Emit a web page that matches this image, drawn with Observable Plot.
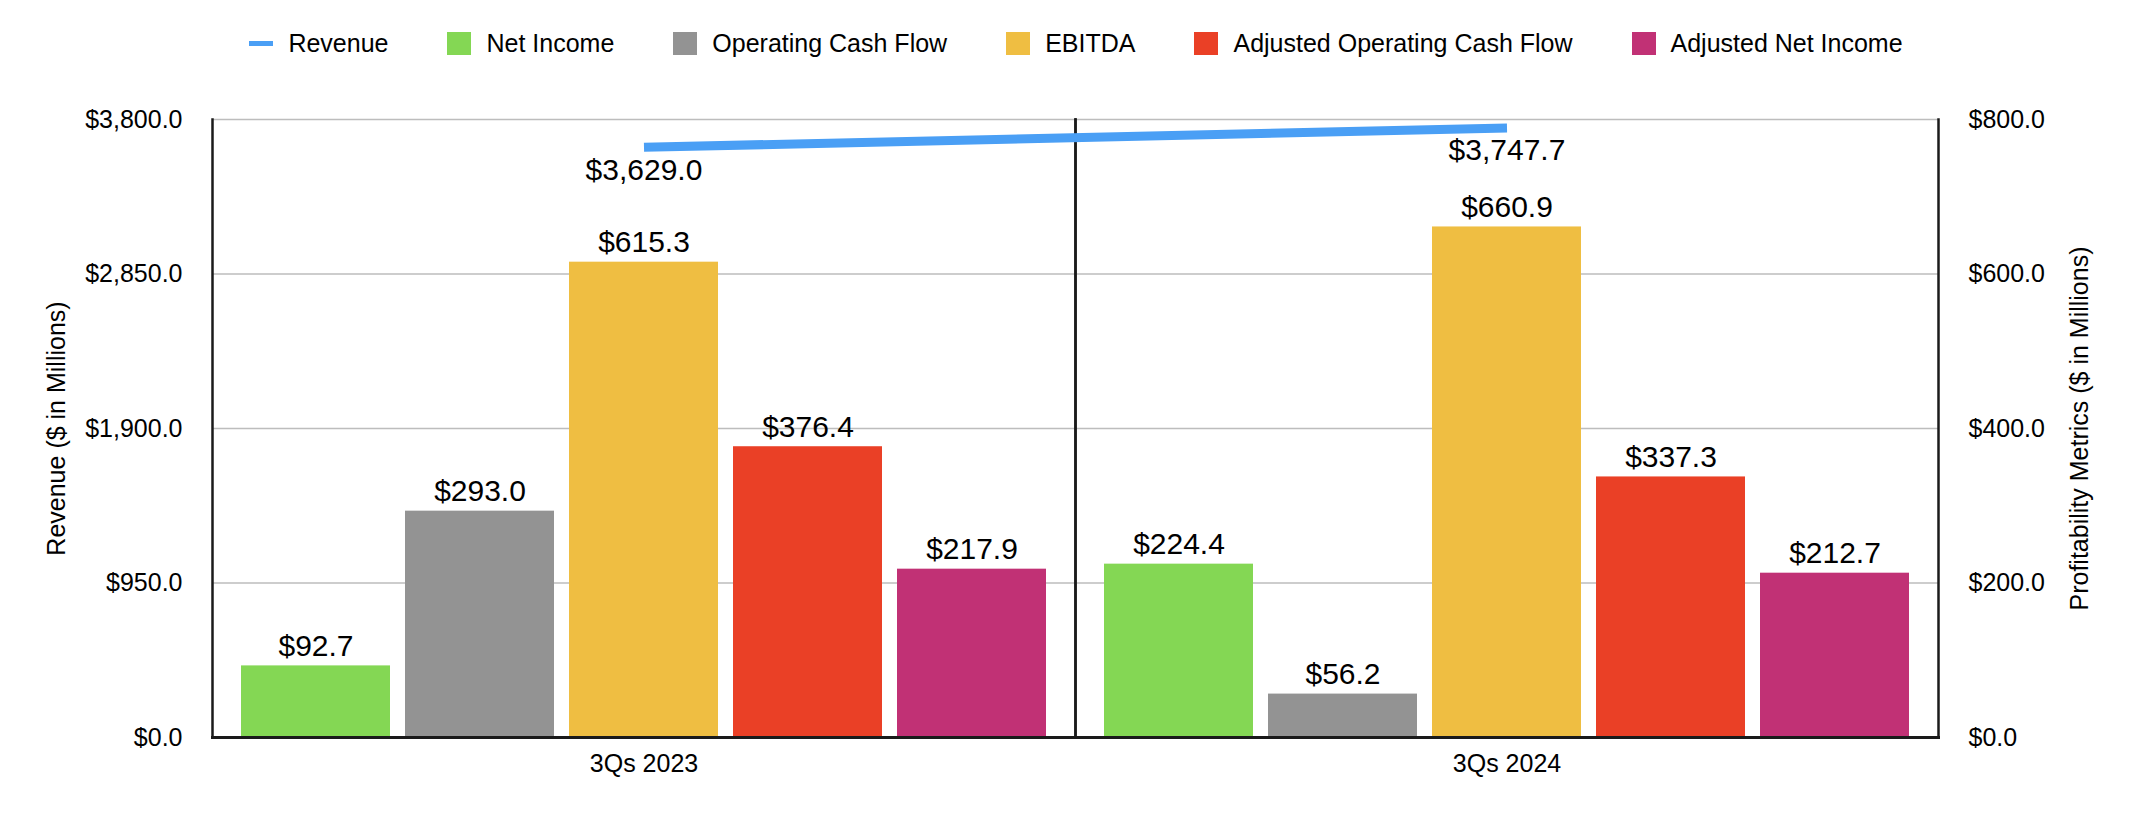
<!DOCTYPE html>
<html><head><meta charset="utf-8">
<script src="https://cdn.jsdelivr.net/npm/d3@7"></script>
<script src="https://cdn.jsdelivr.net/npm/@observablehq/plot@0.6"></script>
<style>
body{margin:0;background:#fff;font-family:"Liberation Sans",Arial,sans-serif;}
#legend{height:86px;width:2142px;display:flex;justify-content:center;align-items:center;font-size:25px;color:#000;padding-left:10px;box-sizing:border-box;}
.item{display:flex;align-items:center;margin:0 29.5px;white-space:nowrap;}
.sw{width:24px;height:23px;margin-right:15px;}
.ln{width:24px;height:5px;margin-right:15px;}
#wrap{position:relative;width:2142px;height:748px;}
#wrap svg{position:absolute;left:0;top:0;}
</style></head><body>
<div id="legend"></div>
<div id="wrap"></div>
<script>
const periods = ["3Qs 2023", "3Qs 2024"];
const metrics = ["Net Income", "Operating Cash Flow", "EBITDA", "Adjusted Operating Cash Flow", "Adjusted Net Income"];
const values2023 = [92.7, 293.0, 615.3, 376.4, 217.9];
const values2024 = [224.4, 56.2, 660.9, 337.3, 212.7];
const revenue = [3629.0, 3747.7];
const revenueTicks = [0, 950, 1900, 2850, 3800];
const metricTicks = [0, 200, 400, 600, 800];
const colors = ["#84D754", "#939393", "#EFBE42", "#EA4026", "#C13175"];
const revenueColor = "#4A9FF5";

// legend
const legend = document.getElementById("legend");
function addItem(label, color, line) {
  const it = document.createElement("div"); it.className = "item";
  const sw = document.createElement("div"); sw.className = line ? "ln" : "sw"; sw.style.background = color;
  const tx = document.createElement("span"); tx.textContent = label;
  it.appendChild(sw); it.appendChild(tx); legend.appendChild(it);
}
addItem("Revenue", revenueColor, true);
metrics.forEach((m, i) => addItem(m, colors[i], false));

const series = [values2023, values2024];
const rows = [];
periods.forEach((p, i) => metrics.forEach((m, j) => rows.push({period: p, metric: m, value: series[i][j]})));
const revRows = periods.map((p, i) => ({period: p, revenue: revenue[i]}));
const k = metricTicks[metricTicks.length - 1] / revenueTicks[revenueTicks.length - 1];
const fmt = d3.format(",.1f");

const common = {
  width: 2142, height: 748,
  marginTop: 33, marginBottom: 97, marginLeft: 212, marginRight: 204,
  style: {fontFamily: "Liberation Sans, Arial, sans-serif", fontSize: "25px", background: "transparent", overflow: "visible", color: "#000"}
};

const p1 = Plot.plot({
  ...common,
  fx: {domain: periods, padding: 0, axis: null},
  x: {domain: metrics, paddingInner: 0.09, paddingOuter: 0.176, axis: null},
  y: {domain: [0, 800], axis: null},
  color: {domain: metrics, range: colors},
  marks: [
    Plot.gridY(metricTicks, {stroke: "#bdbdbd", strokeOpacity: 1, strokeWidth: 1.5}),
    Plot.barY(rows, {fx: "period", x: "metric", y: "value", fill: "metric"}),
    Plot.text(rows, {fx: "period", x: "metric", y: "value", text: d => "$" + fmt(d.value), lineAnchor: "bottom", dy: -10, fontSize: 30, fill: "#000"}),
    Plot.frame({anchor: "left", stroke: "#1a1a1a", strokeWidth: 2.5}),
    Plot.frame({anchor: "right", stroke: "#1a1a1a", strokeWidth: 2.5}),
    Plot.frame({anchor: "bottom", stroke: "#1a1a1a", strokeWidth: 3})
  ]
});

const p2 = Plot.plot({
  ...common,
  x: {type: "band", domain: periods, padding: 0, axis: null},
  y: {domain: [0, 800], axis: null},
  marks: [
    Plot.axisY(metricTicks, {anchor: "left", tickSize: 0, tickPadding: 30, tickFormat: d => "$" + fmt(d / k), label: "Revenue ($ in Millions)", labelArrow: false, labelAnchor: "center", labelOffset: 165, fontSize: 25}),
    Plot.axisY(metricTicks, {anchor: "right", tickSize: 0, tickPadding: 30, tickFormat: d => "$" + fmt(d), label: "Profitability Metrics ($ in Millions)", labelArrow: false, labelAnchor: "center", labelOffset: 149, fontSize: 25}),
    Plot.axisX({anchor: "bottom", tickSize: 0, tickPadding: 17, label: null, fontSize: 25}),
    Plot.line(revRows, {x: "period", y: d => d.revenue * k, stroke: revenueColor, strokeWidth: 9, strokeLinecap: "butt"}),
    Plot.text(revRows, {x: "period", y: d => d.revenue * k, text: d => "$" + fmt(d.revenue), lineAnchor: "top", dy: 11, fontSize: 30, fill: "#000"})
  ]
});

const wrap = document.getElementById("wrap");
wrap.appendChild(p1);
wrap.appendChild(p2);
</script>
</body></html>
